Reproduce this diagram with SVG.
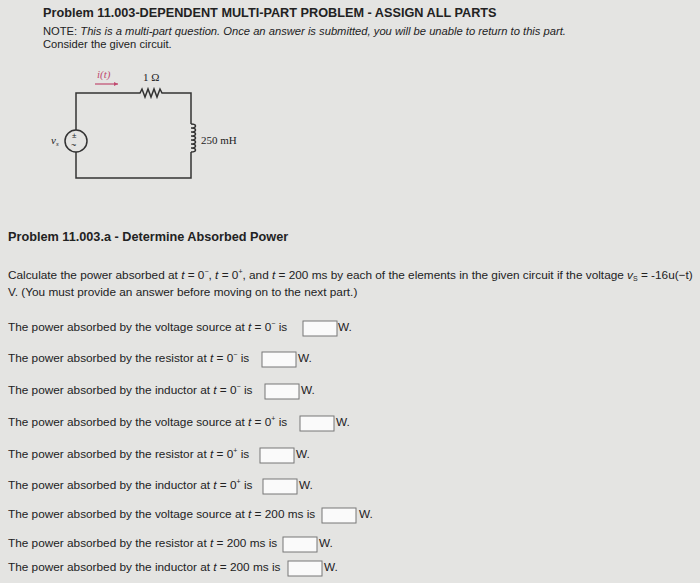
<svg xmlns="http://www.w3.org/2000/svg" width="700" height="583" viewBox="0 0 700 583">
<style>
text{font-family:"Liberation Sans",Arial,sans-serif;fill:#222}
.b{font-weight:bold}
.s{font-family:"Liberation Serif",serif}
.w{stroke:#333;stroke-width:1.5;fill:none}
.box{fill:#fafafa;stroke:#777;stroke-width:1}
</style>
<rect width="700" height="583" fill="#e4e4e2"/>
<text x="43" y="17" class="b" font-size="12.7">Problem 11.003-DEPENDENT MULTI-PART PROBLEM - ASSIGN ALL PARTS</text>
<text x="43" y="35" font-size="11.2"><tspan>NOTE: </tspan><tspan font-style="italic">This is a multi-part question. Once an answer is submitted, you will be unable to return to this part.</tspan></text>
<text x="43" y="48" font-size="11.2">Consider the given circuit.</text>
<g id="circuit">
<path class="w" d="M76,130 V93 H140 l2,-4 3,8 3,-8 3,8 3,-8 3,8 3,-8 2,4 H191 V124 M191,152 V178 H76 V152"/>
<path class="w" d="M191,124 c6,0 6,4 0,4 c6,0 6,4 0,4 c6,0 6,4 0,4 c6,0 6,4 0,4 c6,0 6,4 0,4 c6,0 6,4 0,4 c6,0 6,4 0,4"/>
<circle cx="76" cy="141" r="11" class="w"/>
<text x="72" y="138" font-size="8">±</text>
<text x="71" y="148" font-size="9">~</text>
<text x="51" y="144" class="s" font-size="11" font-style="italic">v<tspan font-size="7" dy="2">s</tspan></text>
<text x="97" y="78" class="s" font-size="11" font-style="italic" style="fill:#c04a70">i(t)</text>
<path d="M95,84 H118" stroke="#c04a70" stroke-width="1.2"/><path d="M118,84 l-4,-2 v4z" fill="#c04a70"/>
<text x="143" y="81" class="s" font-size="11">1 Ω</text>
<text x="201" y="144" class="s" font-size="11">250 mH</text>
</g>
<text x="8" y="241" class="b" font-size="12.7">Problem 11.003.a - Determine Absorbed Power</text>
<text x="8" y="279" font-size="11.8">Calculate the power absorbed at <tspan font-style="italic">t</tspan> = 0<tspan font-size="7" dy="-5">−</tspan><tspan dy="5">, </tspan><tspan font-style="italic">t</tspan> = 0<tspan font-size="7" dy="-5">+</tspan><tspan dy="5">, and </tspan><tspan font-style="italic">t</tspan> = 200 ms by each of the elements in the given circuit if the voltage <tspan font-style="italic">v</tspan><tspan font-size="7" dy="2">S</tspan><tspan dy="-2"> = -16u(−t)</tspan></text>
<text x="8" y="296" font-size="11.8">V. (You must provide an answer before moving on to the next part.)</text>
<g font-size="11.8">
<text x="8" y="331">The power absorbed by the voltage source at <tspan font-style="italic">t</tspan> = 0<tspan font-size="7" dy="-5">−</tspan><tspan dy="5"> is</tspan></text>
<rect class="box" x="303" y="321" width="34" height="15"/><text x="338" y="331">W.</text>
<text x="8" y="362">The power absorbed by the resistor at <tspan font-style="italic">t</tspan> = 0<tspan font-size="7" dy="-5">−</tspan><tspan dy="5"> is</tspan></text>
<rect class="box" x="262" y="352" width="34" height="15"/><text x="298" y="362">W.</text>
<text x="8" y="394">The power absorbed by the inductor at <tspan font-style="italic">t</tspan> = 0<tspan font-size="7" dy="-5">−</tspan><tspan dy="5"> is</tspan></text>
<rect class="box" x="265" y="384" width="34" height="15"/><text x="301" y="394">W.</text>
<text x="8" y="426">The power absorbed by the voltage source at <tspan font-style="italic">t</tspan> = 0<tspan font-size="7" dy="-5">+</tspan><tspan dy="5"> is</tspan></text>
<rect class="box" x="300" y="416" width="34" height="15"/><text x="336" y="426">W.</text>
<text x="8" y="458">The power absorbed by the resistor at <tspan font-style="italic">t</tspan> = 0<tspan font-size="7" dy="-5">+</tspan><tspan dy="5"> is</tspan></text>
<rect class="box" x="260" y="448" width="34" height="15"/><text x="296" y="458">W.</text>
<text x="8" y="489">The power absorbed by the inductor at <tspan font-style="italic">t</tspan> = 0<tspan font-size="7" dy="-5">+</tspan><tspan dy="5"> is</tspan></text>
<rect class="box" x="263" y="479" width="34" height="15"/><text x="299" y="489">W.</text>
<text x="8" y="518">The power absorbed by the voltage source at <tspan font-style="italic">t</tspan> = 200 ms is</text>
<rect class="box" x="322" y="508" width="34" height="15"/><text x="359" y="518">W.</text>
<text x="8" y="547">The power absorbed by the resistor at <tspan font-style="italic">t</tspan> = 200 ms is</text>
<rect class="box" x="283" y="537" width="34" height="15"/><text x="319" y="547">W.</text>
<text x="8" y="571">The power absorbed by the inductor at <tspan font-style="italic">t</tspan> = 200 ms is</text>
<rect class="box" x="288" y="561" width="34" height="15"/><text x="324" y="571">W.</text>
</g>
</svg>
